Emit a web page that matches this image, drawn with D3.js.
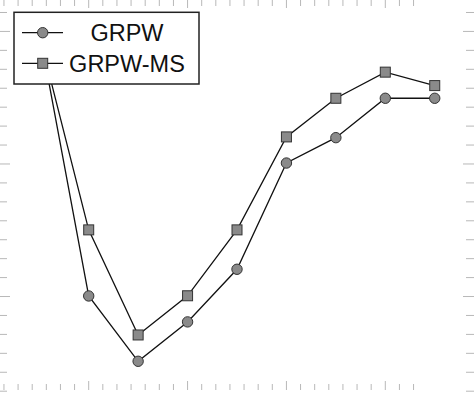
<!DOCTYPE html>
<html>
<head>
<meta charset="utf-8">
<script src="https://cdn.jsdelivr.net/npm/d3@7"></script>
<style>
  html, body { margin: 0; padding: 0; background: #fff; }
  svg { display: block; }
</style>
</head>
<body>
<script>
// ---- data ----
const xValues = [1, 2, 3, 4, 5, 6, 7, 8, 9];
const grpw    = [19.03, 5.03, 1.58, 3.66, 6.44, 12.05, 13.39, 15.47, 15.47];
const grpwMS  = [18.82, 8.52, 2.97, 5.04, 8.52, 13.43, 15.47, 16.85, 16.14];
const seriesNames = ["GRPW", "GRPW-MS"];
const xMajorTicks = [2, 4, 6, 8];
const yMajorTicks = [5, 12, 19];

const W = 474, H = 394;
const svg = d3.select("body").append("svg").attr("width", W).attr("height", H);

// scales
const x = d3.scaleLinear().domain([2, 8]).range([88.7, 385.3]);
const y = d3.scaleLinear().domain([0, 20.66]).range([391.2, 0]);

// tick sets
const xMinor = d3.range(-12, 24).map(k => 2 + k * 2 / 7).filter(v => x(v) > 2 && x(v) < 472);
const yMinor = d3.range(0, 21).filter(v => y(v) >= 0 && y(v) <= 392);
const isXMajor = v => xMajorTicks.some(m => Math.abs(m - v) < 1e-6);
const isYMajor = v => yMajorTicks.includes(v);

const tickColor = "#b8b8b8";
const ticks = svg.append("g").attr("stroke", tickColor).attr("stroke-width", 1);

// bottom ticks
ticks.selectAll(".bt").data(xMinor).join("line")
  .attr("x1", d => x(d)).attr("x2", d => x(d))
  .attr("y1", d => isXMajor(d) ? 381 : 384).attr("y2", 390);
// top ticks
ticks.selectAll(".tt").data(xMinor).join("line")
  .attr("x1", d => x(d)).attr("x2", d => x(d))
  .attr("y1", 0).attr("y2", d => isXMajor(d) ? 8 : 6);
// left ticks
ticks.selectAll(".lt").data(yMinor).join("line")
  .attr("y1", d => y(d)).attr("y2", d => y(d))
  .attr("x1", 0).attr("x2", d => isYMajor(d) ? 10 : 7);
// right ticks
ticks.selectAll(".rt").data(yMinor).join("line")
  .attr("y1", d => y(d)).attr("y2", d => y(d))
  .attr("x1", d => isYMajor(d) ? 463 : 466).attr("x2", 474);

// lines
const line = d3.line().x((d, i) => x(xValues[i])).y(d => y(d));
const series = [grpw, grpwMS];
svg.selectAll(".ln").data(series).join("path")
  .attr("d", d => line(d))
  .attr("fill", "none").attr("stroke", "#111").attr("stroke-width", 1.3);

const markerFill = "#8a8a8a", markerStroke = "#333";
// circles
svg.selectAll(".c").data(grpw).join("circle")
  .attr("cx", (d, i) => x(xValues[i])).attr("cy", d => y(d)).attr("r", 5.2)
  .attr("fill", markerFill).attr("stroke", markerStroke).attr("stroke-width", 1);
// squares
const s = 10;
svg.selectAll(".s").data(grpwMS).join("rect")
  .attr("x", (d, i) => x(xValues[i]) - s / 2).attr("y", d => y(d) - s / 2)
  .attr("width", s).attr("height", s)
  .attr("fill", markerFill).attr("stroke", markerStroke).attr("stroke-width", 1);

// legend
const lg = svg.append("g");
lg.append("rect").attr("x", 14).attr("y", 12.3).attr("width", 185).attr("height", 71.7)
  .attr("fill", "#fff").attr("stroke", "#222").attr("stroke-width", 1.5);
const rows = [32.7, 63.3];
rows.forEach((ry, k) => {
  lg.append("line").attr("x1", 22).attr("x2", 63).attr("y1", ry).attr("y2", ry)
    .attr("stroke", "#111").attr("stroke-width", 1.3);
  if (k === 0) {
    lg.append("circle").attr("cx", 42.7).attr("cy", ry).attr("r", 5.2)
      .attr("fill", markerFill).attr("stroke", markerStroke);
  } else {
    lg.append("rect").attr("x", 42.7 - s / 2).attr("y", ry - s / 2).attr("width", s).attr("height", s)
      .attr("fill", markerFill).attr("stroke", markerStroke);
  }
  lg.append("text").attr("x", 127).attr("y", ry + 8.2)
    .attr("text-anchor", "middle")
    .attr("font-family", "'Liberation Sans', Arial, Helvetica, sans-serif")
    .attr("font-size", 23.5).attr("fill", "#111")
    .text(seriesNames[k]);
});
</script>
</body>
</html>
